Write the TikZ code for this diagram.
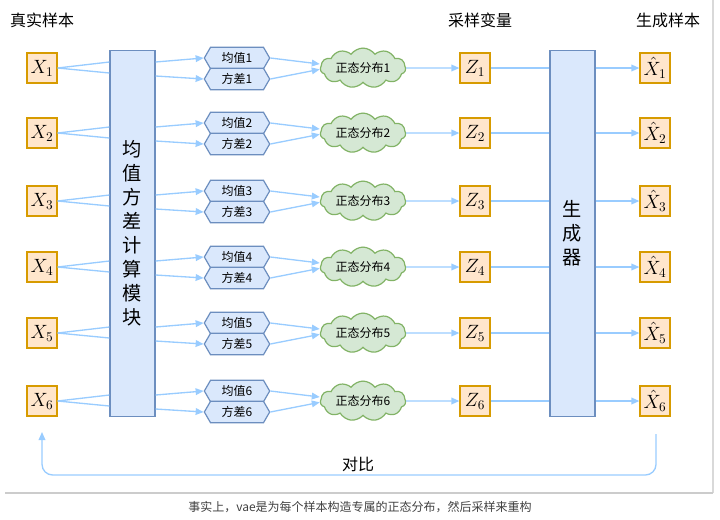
\documentclass[tikz,border=0pt]{standalone}
\usepackage{fontspec}
\setmainfont{Liberation Sans}
\newfontfamily\cjk{Noto Sans CJK SC}
\usetikzlibrary{shapes.symbols,arrows.meta}
\definecolor{ofill}{HTML}{FFE6CC}
\definecolor{oline}{HTML}{D79B00}
\definecolor{bfill}{HTML}{DAE8FC}
\definecolor{bline}{HTML}{6C8EBF}
\definecolor{gfill}{HTML}{D5E8D4}
\definecolor{gline}{HTML}{82B366}
\definecolor{arr}{HTML}{99CCFF}
\begin{document}
\begin{tikzpicture}[x=0.75pt,y=-0.75pt,
  xbox/.style={draw=oline,fill=ofill,line width=0.9pt,minimum size=22.5pt,inner sep=0pt,font=\Large},
  tall/.style={draw=bline,fill=bfill,line width=0.9pt,minimum width=33.75pt,minimum height=275pt,inner sep=0pt,font=\cjk\Large,align=center},
  hexa/.style={shape=signal,signal to=east and west,signal pointer angle=120,draw=bline,fill=bfill,line width=0.9pt,minimum width=49pt,minimum height=16pt,inner sep=1pt,font=\cjk\small},
  cld/.style={cloud,cloud puffs=11,cloud puff arc=110,aspect=2.6,draw=gline,fill=gfill,line width=0.9pt,inner sep=0pt,minimum width=64pt,minimum height=26pt,font=\cjk\small},
  ln/.style={draw=arr,line width=1pt},
  ar/.style={ln,-{Triangle[length=6pt,width=5pt]}},
  hdr/.style={font=\cjk\large}]
\useasboundingbox (0,0) rectangle (720,519);
\draw[gray!30,line width=0.8pt] (713,0) -- (713,493);
\draw[gray!40,line width=0.8pt] (5,493) -- (713,493);
\node[hdr] (h1) at (42,20) {真实样本};
\node[hdr] (h2) at (480,20) {采样变量};
\node[hdr] (h3) at (668,20) {生成样本};
\node[tall] (M) at (132.5,233.5) {均\\值\\方\\差\\计\\算\\模\\块};
\node[tall] (G) at (572.5,233.5) {生\\成\\器};
\foreach \i/\y in {1/68,2/133,3/201,4/267,5/333,6/401}{
  \node[xbox] (x\i) at (42,\y) {$X_{\i}$};
  \node[hexa] (m\i) at (237,\y-10) {均值\i};
  \node[hexa] (v\i) at (237,\y+11) {方差\i};
  \node[cld] (c\i) at (363,\y) {正态分布\i};
  \node[xbox] (z\i) at (475,\y) {$Z_{\i}$};
  \node[xbox] (y\i) at (655,\y) {$\hat{X}_{\i}$};
  \coordinate (ma\i) at (M.west |- 0,\y-6);
  \coordinate (mb\i) at (M.west |- 0,\y+5);
  \coordinate (mc\i) at (M.east |- 0,\y-6);
  \coordinate (md\i) at (M.east |- 0,\y+8);
  \draw[ln] (x\i.east) -- (ma\i);
  \draw[ln] (x\i.east) -- (mb\i);
  \draw[ar] (mc\i) -- (m\i.west);
  \draw[ar] (md\i) -- (v\i.west);
  \draw[ar] (m\i.east) -- ([yshift=3pt]c\i.west);
  \draw[ar] (v\i.east) -- ([yshift=-1pt]c\i.west);
  \draw[ar] (c\i.east) -- (z\i.west);
  \draw[ln] (z\i.east) -- (G.west |- z\i);
  \draw[ar] (G.east |- y\i) -- (y\i.west);
}
\coordinate (p1) at (656,434);
\coordinate (p2) at (42,432);
\draw[ar,rounded corners=8pt] (p1) -- (656,475) -- (42,475) -- (p2);
\node[font=\cjk\large] (dc) at (358,464) {对比};
\node[font=\cjk\small,text=black!75] (cap) at (360,507) {事实上，vae是为每个样本构造专属的正态分布，然后采样来重构};
\end{tikzpicture}
\end{document}
